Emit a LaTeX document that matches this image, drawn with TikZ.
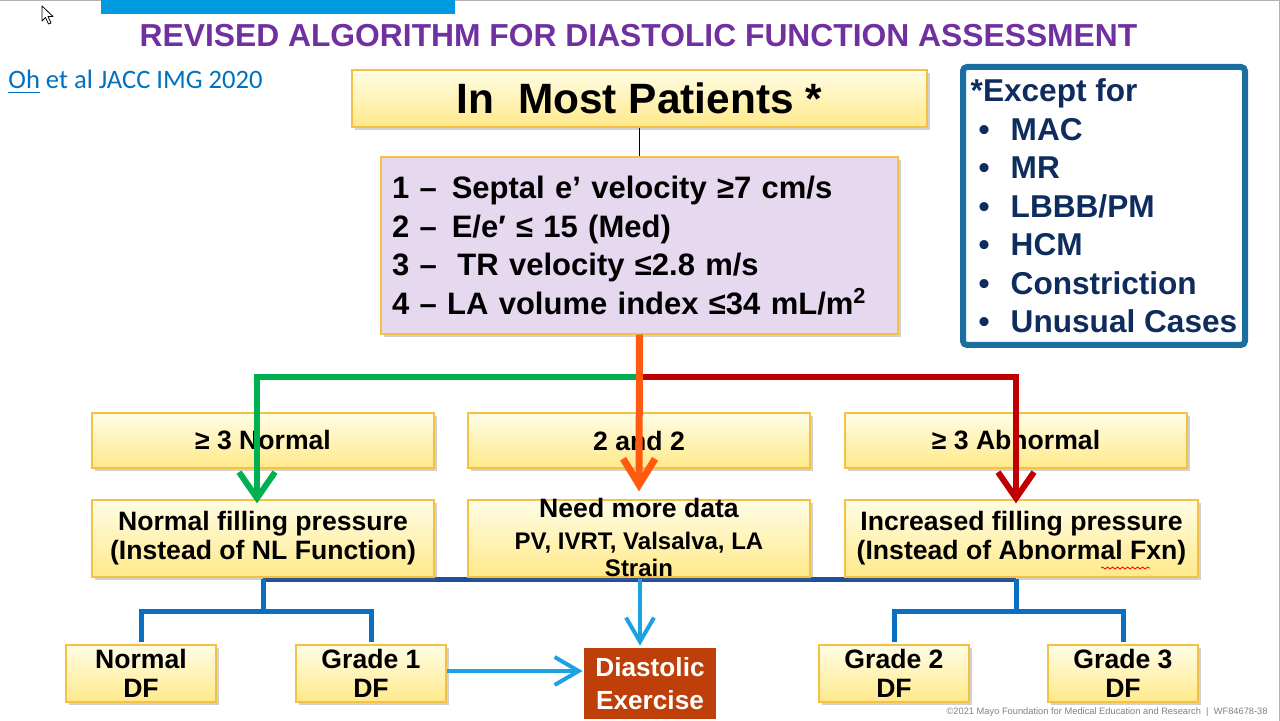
\documentclass[tikz,border=0pt]{standalone}
\usepackage{fontspec}
\setmainfont{Liberation Sans}
\newfontfamily\carlito{Carlito}
\usetikzlibrary{arrows.meta,shadows,decorations.pathmorphing,calc}
\definecolor{ttlpurple}{HTML}{7030A0}
\definecolor{linkblue}{HTML}{0070C0}
\definecolor{ytop}{HTML}{FFFDE6}
\definecolor{ybot}{HTML}{FFE98A}
\definecolor{ygold}{HTML}{F5C142}
\definecolor{lav}{HTML}{E6D8EF}
\definecolor{excblue}{HTML}{1A6FA0}
\definecolor{navy}{HTML}{0E2D5E}
\definecolor{grn}{HTML}{00B050}
\definecolor{org}{HTML}{FF5A0F}
\definecolor{rd}{HTML}{C00000}
\definecolor{busblue}{HTML}{1F4E9A}
\definecolor{treeblue}{HTML}{0A6FC2}
\definecolor{lblue}{HTML}{1CA2E2}
\definecolor{dexred}{HTML}{BF3F0A}
\definecolor{barblue}{HTML}{009BDE}
\newcommand\bul{\hspace*{4pt}\makebox[16pt][l]{•}}
\newcommand\smallline{\fontsize{12}{13.5}\selectfont}
\begin{document}
\begin{tikzpicture}[x=0.5pt,y=-0.5pt,
  shadowed/.style={drop shadow={shadow xshift=1.3pt,shadow yshift=-1.3pt,opacity=0.3,fill=black!60}},
  ybox/.style={draw=ygold,line width=0.6pt,top color=ytop,bottom color=ybot,shadowed,inner sep=0pt,align=center,font=\fontsize{13.3}{14.5}\selectfont\bfseries},
  gline/.style={grn,line width=3pt,-{Straight Barb[length=13pt,width=18pt]}},
  rline/.style={rd,line width=3pt,-{Straight Barb[length=13pt,width=18pt]}},
  oline/.style={org,line width=3.5pt,-{Straight Barb[length=13pt,width=16pt]}},
  bus/.style={busblue,line width=2.5pt},
  tree/.style={treeblue,line width=2.5pt},
  lbarrow/.style={lblue,line width=2pt,-{Straight Barb[length=12pt,width=14pt]}}]
\useasboundingbox (0,0) rectangle (1280,721);
% frame and top bar
\draw[black!30,line width=0.6pt] (0,0.6) -- (1280,0.6);
\draw[black!30,line width=0.6pt] (1279.4,0) -- (1279.4,721);
\fill[barblue] (101,0) rectangle (455,14);
% cursor
\draw[black,fill=white,line width=0.4pt,line join=round] (42,6) -- (42,21) -- (45.5,17.5) -- (48.5,24) -- (51,23) -- (48,16.5) -- (53,16.5) -- cycle;
% title and reference
\node[anchor=base,font=\fontsize{15.9}{18}\selectfont\bfseries,text=ttlpurple,inner sep=0pt] (title) at (638.5,47) {REVISED ALGORITHM FOR DIASTOLIC FUNCTION ASSESSMENT};
\node[anchor=base west,font=\carlito\fontsize{13.3}{15}\selectfont,text=linkblue,inner sep=0pt] (ref) at (8,89) {\underline{Oh} et al JACC IMG 2020};
% blue bus behind boxes
\coordinate (bL) at (263,579);
\coordinate (bR) at (1016,579);
\draw[bus] (bL) -- (bR);
% boxes
\node[ybox,minimum width=287.5pt,minimum height=28.5pt,font=\fontsize{21.2}{24}\selectfont\bfseries] (mp) at (639.5,98.5) {In~~Most Patients *};
\node[draw=ygold,line width=0.6pt,fill=lav,shadowed,minimum width=258.5pt,minimum height=88.5pt,inner xsep=5.5pt,inner ysep=0pt,text width=247.5pt,align=left,font=\fontsize{15.5}{19.25}\selectfont\bfseries] (crit) at (639.5,245.5)
 {1 –~\hspace{0.15em}Septal e’ velocity ≥7 cm/s\\ 2 –~\hspace{0.15em}E/e′ ≤ 15 (Med)\\ 3 –~~TR velocity ≤2.8 m/s\\ 4 – LA volume index ≤34 mL/m\textsuperscript{2}};
\node[draw=excblue,line width=3pt,rounded corners=2pt,fill=white,minimum width=141pt,minimum height=139pt,inner xsep=3.5pt,inner ysep=0pt,align=left,text=navy,font=\fontsize{15.8}{19.25}\selectfont\bfseries] (exc) at (1104,206)
 {*Except for\\ \bul MAC\\ \bul MR\\ \bul LBBB/PM\\ \bul HCM\\ \bul Constriction\\ \bul Unusual Cases};
\node[ybox,minimum width=171pt,minimum height=27.5pt] (n3) at (263,440.5) {≥ 3 Normal};
\node[ybox,minimum width=171pt,minimum height=27.5pt] (tt) at (639,440.5) {2 and 2};
\node[ybox,minimum width=171pt,minimum height=27.5pt] (ab3) at (1016,440.5) {≥ 3 Abnormal};
\node[ybox,minimum width=171pt,minimum height=38.5pt] (nfp) at (263,538.5) {Normal filling pressure\\(Instead of NL Function)};
\node[ybox,minimum width=171pt,minimum height=38.5pt] (nmd) at (639,538.5) {};
\node[align=center,inner sep=0pt,font=\fontsize{13.3}{16}\selectfont\bfseries] (nmdt) at (639,537.5) {Need more data\\\smallline PV, IVRT, Valsalva, LA\\[-2.5pt]\smallline Strain};
\node[ybox,minimum width=176.5pt,minimum height=38.5pt] (ifp) at (1021.5,538.5) {Increased filling pressure\\(Instead of Abnormal Fxn)};
\draw[red,line width=0.4pt,decorate,decoration={snake,amplitude=0.5pt,segment length=2.5pt}] (1101,568) -- (1150,568);
\node[ybox,minimum width=75pt,minimum height=28.5pt] (ndf) at (141,673.5) {Normal\\DF};
\node[ybox,minimum width=75pt,minimum height=28.5pt] (g1) at (371,673.5) {Grade 1\\DF};
\node[ybox,minimum width=75pt,minimum height=28.5pt] (g2) at (894,673.5) {Grade 2\\DF};
\node[ybox,minimum width=75pt,minimum height=28.5pt] (g3) at (1123,673.5) {Grade 3\\DF};
\node[fill=dexred,text=white,minimum width=66pt,minimum height=35.5pt,inner sep=0pt,align=center,font=\fontsize{13.1}{16.5}\selectfont\bfseries] (dex) at (650,683.5) {Diastolic\\Exercise};
% footer
\node[anchor=base east,inner sep=0pt,text=black!50,font=\fontsize{4.65}{6}\selectfont] (foot) at (1268,714) {©2021 Mayo Foundation for Medical Education and Research~~|~~WF84678-38};
% connectors
\draw[black,line width=0.8pt] (mp.south) -- (crit.north);
\coordinate (split) at ([yshift=-21pt]crit.south);
\draw[gline] (crit.south) -- (split) -| ([xshift=-3pt,yshift=-2pt]nfp.north);
\draw[rline] (crit.south) -- (split) -| ([yshift=-2pt]nfp.north -| ab3.center);
\draw[oline] (crit.south) -- ([yshift=4pt]nmd.north);
% lower tree
\coordinate (tL) at (263,611);
\coordinate (tR) at (1016,611);
\draw[tree] (bL) -- (tL);
\draw[tree] ([yshift=1pt]ndf.north) |- (tL) -| ([yshift=1pt]g1.north);
\draw[tree] (bR) -- (tR);
\draw[tree] ([yshift=1pt]g2.north) |- (tR) -| ([yshift=1pt]g3.north);
\draw[lbarrow] ([xshift=-5pt]bL -| dex.north) -- ([xshift=-5pt,yshift=1pt]dex.north);
\draw[lbarrow] (g1.east |- 0,671) -- ([xshift=-0.5pt]dex.west |- 0,671);
\end{tikzpicture}
\end{document}
